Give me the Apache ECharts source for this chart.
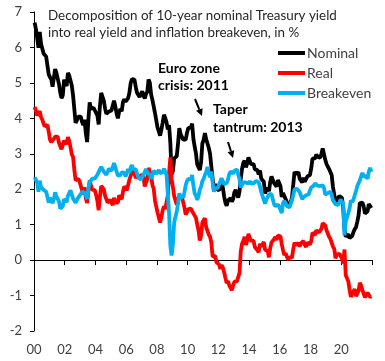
<!DOCTYPE html>
<html><head><meta charset="utf-8">
<script src="https://cdn.jsdelivr.net/npm/echarts@6/dist/echarts.min.js"></script>
<style>html,body{margin:0;padding:0;background:#fff}#c{width:385px;height:361px}</style>
</head><body><div id="c"></div>
<script>
// Monthly readings, Jan 2000 .. Dec 2021
const seriesNames = ['Nominal', 'Real', 'Breakeven'];
const xTickLabels = ['00','02','04','06','08','10','12','14','16','18','20'];
const startYear = 2000;
const nominal = [
6.70,6.52,6.26,5.99,6.44,6.10,6.05,5.83,5.80,5.74,5.72,5.24,
5.16,5.10,4.89,5.14,5.39,5.28,5.24,4.97,4.73,4.57,4.65,5.09,
5.04,4.91,5.28,5.21,5.16,4.93,4.65,4.26,3.87,3.94,4.05,4.03,
4.05,3.90,3.81,3.96,3.57,3.33,3.98,4.45,4.27,4.29,4.30,4.27,
4.15,4.08,3.83,4.35,4.72,4.73,4.50,4.28,4.13,4.10,4.19,4.23,
4.22,4.17,4.50,4.34,4.14,4.00,4.18,4.26,4.20,4.46,4.54,4.47,
4.42,4.57,4.72,4.99,5.11,5.11,5.09,4.88,4.72,4.73,4.60,4.56,
4.76,4.72,4.56,4.69,4.75,5.10,5.00,4.67,4.52,4.53,4.15,4.10,
3.74,3.74,3.51,3.68,3.88,4.10,4.01,3.89,3.69,3.81,3.30,2.42,
2.52,2.87,2.82,2.93,3.29,3.72,3.56,3.59,3.40,3.39,3.40,3.59,
3.73,3.69,3.73,3.85,3.42,3.20,3.01,2.70,2.65,2.54,2.76,3.29,
3.39,3.58,3.41,3.46,3.17,3.00,3.00,2.30,1.98,2.15,2.01,1.98,
1.97,1.97,2.17,2.05,1.80,1.62,1.53,1.68,1.72,1.75,1.65,1.72,
1.91,1.98,1.96,1.76,1.93,2.30,2.58,2.74,2.81,2.62,2.72,2.90,
2.86,2.71,2.72,2.71,2.56,2.60,2.54,2.42,2.53,2.30,2.33,2.21,
1.88,1.98,2.04,1.94,2.20,2.36,2.32,2.17,2.17,2.07,2.26,2.24,
2.09,1.78,1.89,1.81,1.81,1.64,1.50,1.56,1.63,1.76,2.14,2.49,
2.43,2.42,2.48,2.30,2.30,2.19,2.32,2.21,2.20,2.36,2.35,2.40,
2.58,2.86,2.84,2.87,2.98,2.91,2.89,2.89,3.00,3.15,3.12,2.83,
2.71,2.68,2.57,2.53,2.40,2.07,2.06,1.63,1.70,1.71,1.81,1.86,
1.76,1.50,0.87,0.66,0.67,0.73,0.62,0.65,0.68,0.79,0.87,0.93,
1.08,1.26,1.61,1.64,1.62,1.52,1.32,1.28,1.37,1.58,1.56,1.47
];
const real = [
4.32,4.22,4.08,4.06,4.20,4.04,3.96,3.85,3.77,3.81,3.82,3.62,
3.40,3.33,3.28,3.42,3.48,3.48,3.48,3.31,3.28,3.13,3.12,3.37,
3.35,3.27,3.47,3.36,3.19,2.98,2.91,2.55,2.25,2.28,2.29,2.23,
2.19,1.97,1.85,2.06,1.74,1.61,1.95,2.25,2.10,1.99,1.95,1.97,
1.84,1.67,1.41,1.79,2.09,2.12,2.00,1.82,1.72,1.62,1.61,1.70,
1.70,1.55,1.76,1.62,1.64,1.62,1.83,1.86,1.72,1.93,2.08,2.11,
1.97,2.00,2.26,2.38,2.43,2.55,2.53,2.32,2.28,2.40,2.30,2.29,
2.42,2.35,2.08,2.12,2.29,2.60,2.59,2.38,2.12,2.01,1.68,1.66,
1.34,1.20,1.06,1.21,1.40,1.52,1.44,1.48,1.82,2.47,2.90,2.29,
2.06,1.80,1.76,1.56,1.70,1.83,1.83,1.77,1.64,1.48,1.28,1.36,
1.44,1.44,1.45,1.45,1.32,1.32,1.19,1.00,0.84,0.55,0.69,1.06,
1.10,1.18,0.92,0.83,0.72,0.66,0.50,0.10,0.05,0.12,-0.06,-0.06,
-0.12,-0.25,-0.14,-0.21,-0.34,-0.50,-0.65,-0.59,-0.71,-0.75,-0.85,-0.72,
-0.61,-0.58,-0.60,-0.65,-0.36,0.25,0.46,0.55,0.66,0.43,0.55,0.74,
0.63,0.55,0.56,0.54,0.37,0.37,0.28,0.22,0.46,0.38,0.45,0.51,
0.29,0.27,0.26,0.08,0.34,0.50,0.50,0.59,0.65,0.57,0.69,0.73,
0.67,0.45,0.28,0.14,0.20,0.10,0.01,0.08,0.10,0.07,0.31,0.49,
0.43,0.41,0.48,0.38,0.48,0.47,0.54,0.43,0.37,0.50,0.50,0.44,
0.53,0.77,0.74,0.71,0.84,0.81,0.78,0.80,0.88,1.04,1.08,0.98,
0.84,0.79,0.66,0.60,0.56,0.38,0.32,0.05,0.15,0.15,0.18,0.15,
0.05,-0.09,0.30,-0.43,-0.44,-0.60,-0.84,-1.04,-0.95,-0.92,-0.82,-1.02,
-1.01,-0.87,-0.64,-0.72,-0.84,-0.84,-1.05,-1.09,-0.92,-0.91,-1.04,-1.02
];
const breakeven = [
2.34,2.30,2.18,1.93,2.24,2.06,2.09,1.98,2.03,1.93,1.90,1.62,
1.76,1.77,1.61,1.72,1.91,1.80,1.76,1.66,1.45,1.44,1.53,1.72,
1.69,1.64,1.81,1.85,1.97,1.95,1.74,1.71,1.62,1.66,1.76,1.80,
1.86,1.93,1.96,1.90,1.83,1.72,2.03,2.20,2.17,2.30,2.35,2.30,
2.31,2.41,2.42,2.56,2.63,2.61,2.50,2.46,2.41,2.48,2.58,2.53,
2.52,2.62,2.74,2.72,2.50,2.38,2.35,2.40,2.48,2.53,2.46,2.36,
2.45,2.57,2.46,2.61,2.68,2.56,2.56,2.56,2.44,2.33,2.30,2.27,
2.34,2.37,2.48,2.57,2.46,2.50,2.41,2.29,2.40,2.52,2.47,2.44,
2.40,2.54,2.45,2.47,2.48,2.58,2.57,2.41,1.87,1.34,0.40,0.13,
0.46,1.07,1.06,1.37,1.59,1.89,1.73,1.82,1.76,1.91,2.12,2.23,
2.29,2.25,2.28,2.40,2.10,1.88,1.82,1.70,1.81,1.99,2.07,2.23,
2.29,2.40,2.49,2.63,2.45,2.34,2.50,2.20,1.93,2.03,2.07,2.04,
2.09,2.22,2.31,2.26,2.14,2.12,2.18,2.27,2.43,2.50,2.50,2.44,
2.52,2.56,2.56,2.41,2.29,2.05,2.12,2.19,2.15,2.19,2.17,2.16,
2.23,2.16,2.16,2.17,2.19,2.23,2.26,2.20,2.07,1.92,1.88,1.70,
1.59,1.71,1.78,1.86,1.86,1.86,1.82,1.58,1.52,1.50,1.57,1.51,
1.42,1.33,1.61,1.67,1.61,1.54,1.49,1.48,1.53,1.69,1.83,2.00,
2.00,2.01,2.00,1.92,1.82,1.72,1.78,1.78,1.83,1.86,1.85,1.96,
2.05,2.09,2.10,2.16,2.14,2.10,2.11,2.09,2.12,2.11,2.04,1.85,
1.87,1.89,1.91,1.93,1.84,1.69,1.74,1.58,1.55,1.56,1.63,1.71,
1.71,1.59,0.70,1.09,1.11,1.33,1.46,1.69,1.63,1.71,1.69,1.95,
2.09,2.13,2.25,2.36,2.46,2.36,2.37,2.37,2.29,2.49,2.60,2.49
];
const seriesColors = ['#000000', '#FF0000', '#00B0F0'];
const titleText = 'Decomposition of 10-year nominal Treasury yield\ninto real yield and inflation breakeven, in %';
const notes = ['Euro zone\ncrisis: 2011', 'Taper\ntantrum: 2013'];

const FONT = 'Lato';
function pts(arr) { return arr.map((v, i) => [startYear + (i + 0.5) / 12, v]); }
const allData = [nominal, real, breakeven];

function arrow(x1, y1, x2, y2) {
  const dx = x2 - x1, dy = y2 - y1, L = Math.hypot(dx, dy);
  const ux = dx / L, uy = dy / L, hl = 7, hw = 3.5;
  const bx = x2 - ux * hl, by = y2 - uy * hl;
  return [
    { type: 'line', shape: { x1: x1, y1: y1, x2: bx, y2: by }, style: { stroke: '#000', lineWidth: 2 } },
    { type: 'polygon', shape: { points: [[x2, y2], [bx - uy * hw, by + ux * hw], [bx + uy * hw, by - ux * hw]] }, style: { fill: '#000' } }
  ];
}

const chart = echarts.init(document.getElementById('c'));
chart.setOption({
  animation: false,
  backgroundColor: '#fff',
  grid: { left: 34, right: 13, top: 12, bottom: 30 },
  legend: {
    data: seriesNames, orient: 'vertical', left: 278, top: 46, padding: 0,
    icon: 'rect', itemWidth: 27, itemHeight: 4, itemGap: 6,
    textStyle: { fontFamily: FONT, fontSize: 14, color: '#404040', padding: [0, 0, 0, -3] }
  },
  xAxis: [
    { type: 'value', min: 2000, max: 2022, interval: 2,
      axisLine: { show: true, onZero: true, lineStyle: { color: '#000', width: 1 } },
      axisTick: { show: true, length: 5, lineStyle: { color: '#000' } },
      axisLabel: { show: false }, splitLine: { show: false } },
    { type: 'value', min: 2000, max: 2022, interval: 2, position: 'bottom',
      axisLine: { show: false, onZero: false }, axisTick: { show: false }, splitLine: { show: false },
      axisLabel: { margin: 12, fontFamily: FONT, fontSize: 13, color: '#404040',
        formatter: v => { const k = Math.round((v - startYear) / 2); return xTickLabels[k] !== undefined ? xTickLabels[k] : ''; } } }
  ],
  yAxis: { type: 'value', min: -2, max: 7, interval: 1,
    axisLine: { show: true, onZero: false, lineStyle: { color: '#000', width: 1 } },
    axisTick: { show: true, length: 4, lineStyle: { color: '#000' } },
    axisLabel: { margin: 12, fontFamily: FONT, fontSize: 13, color: '#404040' },
    splitLine: { show: false } },
  series: seriesNames.map((n, k) => ({
    name: n, type: 'line', xAxisIndex: 0, data: pts(allData[k]), showSymbol: false,
    color: seriesColors[k], lineStyle: { width: 3.8, color: seriesColors[k] }
  })),
  graphic: [
    { type: 'text', left: 48, top: 7, style: { text: titleText, font: '13.4px ' + FONT, fill: '#262626', lineHeight: 17 } },
    { type: 'text', left: 158, top: 60, style: { text: notes[0], font: 'bold 14px ' + FONT, fill: '#000', lineHeight: 17 } },
    { type: 'text', left: 213, top: 100, style: { text: notes[1], font: 'bold 14px ' + FONT, fill: '#000', lineHeight: 18 } },
    ...arrow(195, 99, 202, 116),
    ...arrow(228, 142, 233, 158)
  ]
});
</script></body></html>
